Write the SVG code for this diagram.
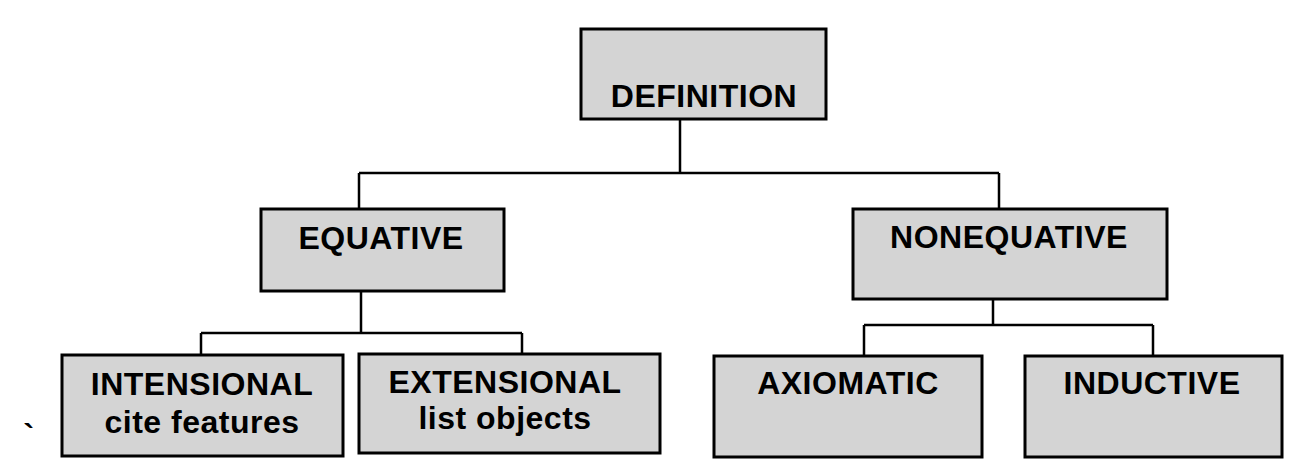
<svg xmlns="http://www.w3.org/2000/svg" width="1311" height="469" viewBox="0 0 1311 469">
<style>
.box{fill:#d4d4d4;stroke:#000;stroke-width:3}
.t{font-family:"Liberation Sans",Arial,sans-serif;font-weight:bold;font-size:32px;letter-spacing:0.5px;fill:#000;text-anchor:middle}
.c{fill:none;stroke:#000;stroke-width:2.5}
</style>
<rect width="1311" height="469" fill="#fff"/>
<g id="connectors">
<path class="c" d="M680,119 V173 M359,173 H999 M359,173 V209 M999,173 V209"/>
<path class="c" d="M361,291 V333 M201,333 H522 M201,333 V355 M522,333 V354"/>
<path class="c" d="M993,299 V325 M864,325 H1153 M864,325 V356 M1153,325 V356"/>
</g>
<g id="definition"><rect class="box" x="581" y="29" width="245" height="90"/><text class="t" x="704" y="107">DEFINITION</text></g>
<g id="equative"><rect class="box" x="261" y="209" width="243" height="82"/><text class="t" x="381" y="249">EQUATIVE</text></g>
<g id="nonequative"><rect class="box" x="853" y="209" width="314" height="90"/><text class="t" x="1009" y="248">NONEQUATIVE</text></g>
<g id="intensional"><rect class="box" x="62" y="355" width="281" height="101"/><text class="t" x="202" y="395">INTENSIONAL</text><text class="t" x="202" y="433">cite features</text></g>
<g id="extensional"><rect class="box" x="359" y="354" width="301" height="99"/><text class="t" x="505" y="393">EXTENSIONAL</text><text class="t" x="505" y="429">list objects</text></g>
<g id="axiomatic"><rect class="box" x="714" y="356" width="268" height="101"/><text class="t" x="848" y="394">AXIOMATIC</text></g>
<g id="inductive"><rect class="box" x="1025" y="356" width="257" height="101"/><text class="t" x="1152" y="394">INDUCTIVE</text></g>
<text class="t" x="29" y="446">`</text>
</svg>
